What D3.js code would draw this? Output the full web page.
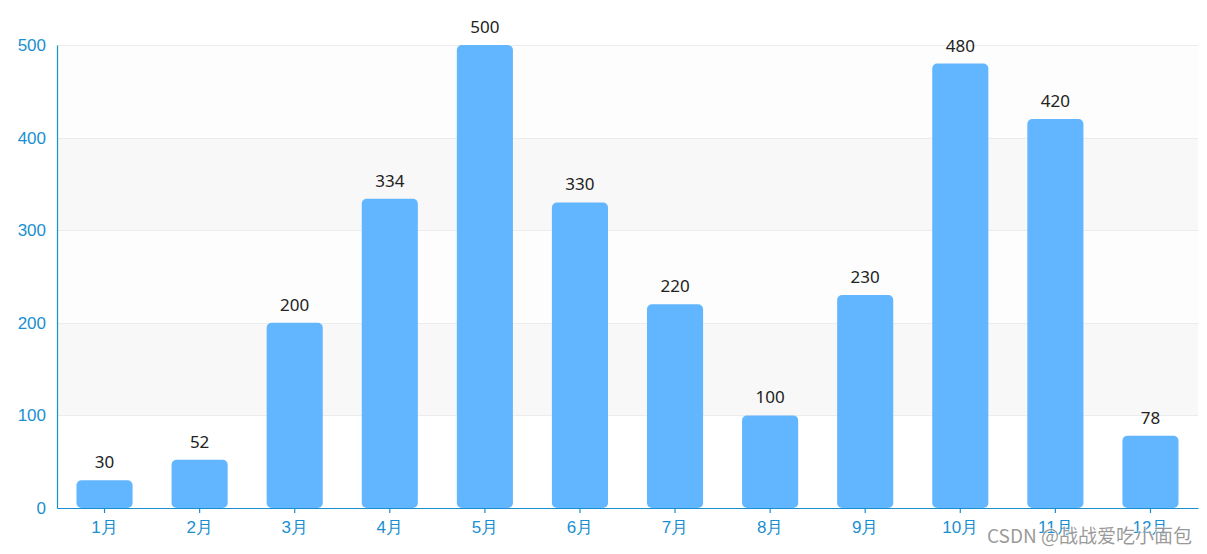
<!DOCTYPE html>
<html>
<head>
<meta charset="utf-8">
<script src="https://cdn.jsdelivr.net/npm/d3@7/dist/d3.min.js"></script>
<style>
  body { margin: 0; background: #fff; }
  svg { display: block; font-family: "Noto Sans", "Noto Sans CJK SC", sans-serif; }
</style>
</head>
<body>
<svg id="chart" width="1207" height="554"></svg>
<script>
var months = ["1月", "2月", "3月", "4月", "5月", "6月", "7月", "8月", "9月", "10月", "11月", "12月"];
var sales = [30, 52, 200, 334, 500, 330, 220, 100, 230, 480, 420, 78];
var yTicks = [0, 100, 200, 300, 400, 500];

var width = 1207, height = 554;
var margin = { top: 45, right: 9, bottom: 46, left: 57 };
var axisColor = "#1a8fd0";

var svg = d3.select("#chart");

var x = d3.scaleBand()
    .domain(months)
    .range([margin.left, width - margin.right])
    .paddingInner(0.41)
    .paddingOuter(0.205);

var xc = d3.scaleBand()
    .domain(months)
    .range([margin.left, width - margin.right]);

var y = d3.scaleLinear()
    .domain([0, 500])
    .range([height - margin.bottom, margin.top]);

// split areas
var bands = d3.pairs(yTicks);
svg.append("g")
    .selectAll("rect")
    .data(bands)
    .enter().append("rect")
    .attr("x", margin.left)
    .attr("width", width - margin.right - margin.left)
    .attr("y", function(d) { return y(d[1]); })
    .attr("height", function(d) { return y(d[0]) - y(d[1]); })
    .attr("fill", function(d, i) { return i % 2 === 0 ? "#ffffff" : "#f8f8f8"; })
    .filter(function(d, i) { return i === 2 || i === 4; })
    .attr("fill", "#fdfdfd");

// split lines
svg.append("g")
    .selectAll("line")
    .data(yTicks.slice(1))
    .enter().append("line")
    .attr("x1", margin.left)
    .attr("x2", width - margin.right)
    .attr("y1", function(d) { return Math.round(y(d)) + 0.5; })
    .attr("y2", function(d) { return Math.round(y(d)) + 0.5; })
    .attr("stroke", "#ececec");

// bars
svg.append("g")
    .selectAll("rect")
    .data(sales)
    .enter().append("rect")
    .attr("x", function(d, i) { return x(months[i]); })
    .attr("width", x.bandwidth())
    .attr("y", function(d) { return y(d); })
    .attr("height", function(d) { return y(0) - y(d); })
    .attr("rx", 5)
    .attr("ry", 5)
    .attr("fill", "#62b6ff");

// value labels
svg.append("g")
    .selectAll("text")
    .data(sales)
    .enter().append("text")
    .attr("x", function(d, i) { return x(months[i]) + x.bandwidth() / 2; })
    .attr("y", function(d) { return y(d) - 12; })
    .attr("text-anchor", "middle")
    .attr("font-size", 17)
    .attr("fill", "#222")
    .text(function(d) { return d; });

// x axis
var xAxis = svg.append("g")
    .attr("transform", "translate(0," + y(0) + ")")
    .call(d3.axisBottom(xc).tickSize(5).tickSizeOuter(0).tickPadding(8));
xAxis.select(".domain").attr("stroke", axisColor).attr("stroke-width", 1.2);
xAxis.selectAll(".tick line").attr("stroke", axisColor).attr("stroke-width", 1.2);
xAxis.selectAll(".tick text").attr("fill", axisColor).attr("font-size", 17);

// y axis
var yAxis = svg.append("g")
    .attr("transform", "translate(" + margin.left + ",0)")
    .call(d3.axisLeft(y).tickValues(yTicks).tickSize(0).tickPadding(11));
yAxis.select(".domain").attr("stroke", axisColor).attr("stroke-width", 1.2);
yAxis.selectAll(".tick text").attr("fill", axisColor).attr("font-size", 17);

// watermark
svg.append("text")
    .attr("x", 1192)
    .attr("y", 543)
    .attr("text-anchor", "end")
    .attr("font-size", 19)
    .attr("font-family", "'Noto Sans CJK SC', sans-serif")
    .attr("fill", "#888")
    .attr("fill-opacity", 0.85)
    .attr("stroke", "#fff")
    .attr("stroke-width", 2)
    .attr("stroke-opacity", 0.6)
    .attr("paint-order", "stroke")
    .text("CSDN @战战爱吃小面包");
</script>
</body>
</html>
